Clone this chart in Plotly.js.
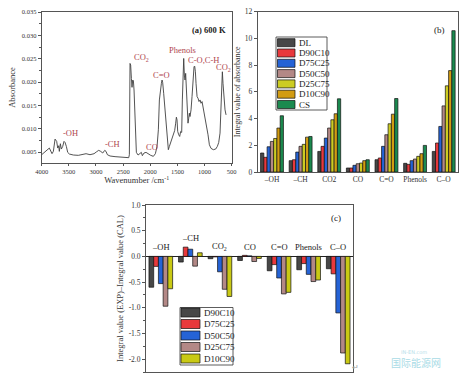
<!DOCTYPE html>
<html><head><meta charset="utf-8">
<script src="https://cdn.plot.ly/plotly-3.0.1.min.js"></script>
<style>body{margin:0;background:#fff}#c{width:474px;height:379px}</style>
</head><body><div id="c"></div>
<script>
// ---- Panel (a): FTIR spectrum at 600 K ----
const waveNumbers = [4000,3957,3908,3859,3810,3785,3754,3724,3705,3687,3675,3656,3638,3613,3589,3570,3546,3521,3490,3417,3325,3245,3183,3110,3036,2987,2950,2913,2876,2839,2815,2790,2741,2649,2557,2465,2397,2385,2373,2361,2348,2336,2324,2311,2299,2287,2275,2256,2225,2189,2164,2146,2115,2078,2035,1992,1943,1906,1875,1851,1832,1814,1795,1783,1771,1753,1734,1710,1685,1667,1648,1624,1600,1575,1550,1532,1519,1507,1495,1476,1458,1440,1421,1409,1397,1384,1372,1360,1348,1335,1317,1305,1292,1280,1268,1249,1231,1212,1194,1182,1169,1157,1138,1120,1102,1083,1065,1046,1028,1010,985,960,936,911,881,838,795,764,739,715,696,684,672,660,641,623,604];
const absorbance = [0.00443,0.00493,0.00550,0.00585,0.00465,0.00514,0.00777,0.00728,0.00585,0.00635,0.00514,0.00678,0.00564,0.00621,0.00728,0.00706,0.00621,0.00493,0.00457,0.00436,0.00429,0.00457,0.00464,0.00443,0.00464,0.00507,0.00536,0.00514,0.00479,0.00536,0.00514,0.00443,0.00415,0.00401,0.00393,0.00386,0.00379,0.00443,0.02398,0.02363,0.02078,0.01886,0.02043,0.02028,0.01829,0.01332,0.00728,0.00493,0.00436,0.00464,0.00493,0.00422,0.00479,0.00493,0.00457,0.00429,0.00408,0.00464,0.00621,0.00977,0.01616,0.01886,0.01972,0.02043,0.01986,0.01758,0.01474,0.01118,0.00763,0.00550,0.00621,0.00706,0.00777,0.00870,0.00962,0.01118,0.01246,0.01190,0.00941,0.00870,0.00834,0.00941,0.00920,0.01616,0.02469,0.02505,0.02149,0.02043,0.02185,0.01794,0.01332,0.01118,0.01225,0.01332,0.01261,0.01403,0.01687,0.02078,0.02327,0.02341,0.02220,0.01972,0.01687,0.01652,0.01581,0.01616,0.01545,0.01581,0.01474,0.01332,0.01225,0.01083,0.00870,0.00656,0.00578,0.00550,0.00564,0.00621,0.00706,0.00905,0.01616,0.02149,0.02220,0.01972,0.01616,0.01403,0.01296];
const peakLabels = ["-OH","-CH","CO<sub>2</sub>","CO","C=O","Phenols","C-O,C-H","CO<sub>2</sub>"];

// ---- Panel (b): integral values ----
const catsB = ["–OH","–CH","CO2","CO","C=O","Phenols","C–O"];
const seriesB = ["DL","D90C10","D75C25","D50C50","D25C75","D10C90","CS"];
const colorsB = ["#474747","#e8393c","#2563d6","#b38886","#cccc22","#d29c12","#1b8a4f"];
const DL     = [1.42,0.85,1.54,0.30,0.92,0.65,1.54];
const D90C10 = [1.10,0.92,1.92,0.30,1.05,0.57,2.17];
const D75C25 = [1.89,1.49,2.54,0.50,1.92,0.85,3.41];
const D50C50 = [2.29,1.92,3.29,0.62,2.79,0.97,4.95];
const D25C75 = [2.51,2.07,3.91,0.67,3.61,1.17,6.45];
const D10C90 = [3.29,2.61,4.36,0.85,4.33,1.37,7.59];
const CS     = [4.21,2.66,5.48,0.92,5.50,1.99,10.58];
const valuesB = [DL,D90C10,D75C25,D50C50,D25C75,D10C90,CS];

// ---- Panel (c): EXP - CAL ----
const catsC = ["–OH","–CH","CO<sub>2</sub>","CO","C=O","Phenols","C–O"];
const seriesC = ["D90C10","D75C25","D50C50","D25C75","D10C90"];
const colorsC = ["#474747","#e8393c","#2563d6","#b38886","#c9c914"];
const diff90 = [-0.60,-0.11,-0.045,-0.08,-0.28,-0.26,-0.24];
const diff75 = [-0.195,0.18,-0.01,0.02,-0.16,-0.14,-0.34];
const diff50 = [-0.53,0.14,-0.30,0.01,-0.42,-0.35,-1.10];
const diff25 = [-0.97,-0.19,-0.64,-0.10,-0.73,-0.49,-1.88];
const diff10 = [-0.63,0.07,-0.78,-0.04,-0.70,-0.46,-2.09];
const valuesC = [diff90,diff75,diff50,diff25,diff10];
const yTicksC = [1.0,0.5,0.0,-0.5,-1.0,-1.5,-2.0];
const yTickTextC = ["1.0","0.5","0.0","-0.5","-1.0","-1.5","-2.0"];

// ---- layout helpers (positions, not data) ----
const W=474,H=379;
const px=x=>x/W, py=y=>1-y/H;
const SERIF='"Liberation Serif","Times New Roman",serif';
const red='#b0474f';
const peakPos=[[61,132.7],[102.7,144],[131.7,57.3],[144,146.7],[161,75.3],[182.7,50],[203,60],[223.3,67.3]];
const labelYC=[0.05,0.22,0.05,0.05,0.05,0.05,0.05];

const traces=[];
traces.push({type:'scatter',mode:'lines',x:waveNumbers,y:absorbance,xaxis:'x',yaxis:'y',
  line:{color:'#404040',width:0.9},showlegend:false,hoverinfo:'skip'});
valuesB.forEach((v,i)=>traces.push({type:'bar',x:catsB,y:v,xaxis:'x2',yaxis:'y2',name:seriesB[i],
  marker:{color:colorsB[i],line:{color:'#111',width:0.7}},showlegend:false}));
valuesC.forEach((v,i)=>traces.push({type:'bar',x:catsB,y:v,xaxis:'x3',yaxis:'y3',name:seriesC[i],
  marker:{color:colorsC[i],line:{color:'#111',width:0.7}},showlegend:false}));

const axBase={showline:true,mirror:true,linecolor:'#555',linewidth:1,showgrid:false,zeroline:false,
  ticks:'outside',ticklen:3,tickcolor:'#555',tickfont:{family:SERIF,size:7,color:'#333'}};

const annotations=[];
peakLabels.forEach((t,i)=>annotations.push({xref:'paper',yref:'paper',x:px(peakPos[i][0]),y:py(peakPos[i][1]),text:t,showarrow:false,
  font:{family:SERIF,size:8.5,color:red},yanchor:'middle'}));
annotations.push({xref:'paper',yref:'paper',x:px(228),y:py(23),text:'<b>(a) 600 K</b>',showarrow:false,xanchor:'right',
  font:{family:SERIF,size:8.5,color:'#222'}});
annotations.push({xref:'paper',yref:'paper',x:px(447),y:py(23),text:'(b)',showarrow:false,
  font:{family:SERIF,size:9,color:'#222'}});
annotations.push({xref:'paper',yref:'paper',x:px(343),y:py(218),text:'(c)',showarrow:false,
  font:{family:SERIF,size:9,color:'#222'}});
catsC.forEach((t,i)=>annotations.push({xref:'x3',yref:'y3',x:i,y:labelYC[i],text:t,showarrow:false,yanchor:'bottom',
  font:{family:SERIF,size:8.5,color:'#222'}}));

const shapes=[];
// legend (b)
shapes.push({type:'rect',xref:'paper',yref:'paper',x0:px(276),x1:px(327),y0:py(110),y1:py(37),line:{color:'#333',width:0.8},fillcolor:'#fff'});
seriesB.forEach((n,i)=>{const yc=42.7+i*10.3;
  shapes.push({type:'rect',xref:'paper',yref:'paper',x0:px(277.5),x1:px(295),y0:py(yc+4),y1:py(yc-4),fillcolor:colorsB[i],line:{color:'#111',width:0.7}});
  annotations.push({xref:'paper',yref:'paper',x:px(297),y:py(yc),text:n,showarrow:false,xanchor:'left',yanchor:'middle',
    font:{family:SERIF,size:9,color:'#222'}});});
// legend (c)
shapes.push({type:'rect',xref:'paper',yref:'paper',x0:px(180),x1:px(233),y0:py(365),y1:py(307.5),line:{color:'#333',width:0.8},fillcolor:'#fff'});
seriesC.forEach((n,i)=>{const yc=312.5+i*11.5;
  shapes.push({type:'rect',xref:'paper',yref:'paper',x0:px(181),x1:px(200),y0:py(yc+4.5),y1:py(yc-4.5),fillcolor:colorsC[i],line:{color:'#111',width:0.7}});
  annotations.push({xref:'paper',yref:'paper',x:px(202),y:py(yc),text:n,showarrow:false,xanchor:'left',yanchor:'middle',
    font:{family:SERIF,size:9,color:'#222'}});});
// watermark
annotations.push({xref:'paper',yref:'paper',x:px(442),y:py(371),text:'国际能源网',showarrow:false,borderpad:0,
  font:{family:'"Noto Sans CJK SC"',size:10,color:'#a9dbe6'}});
annotations.push({xref:'paper',yref:'paper',x:px(428),y:py(356),text:'IN-EN.com',showarrow:false,borderpad:0,yanchor:'bottom',
  font:{family:'"DejaVu Sans"',size:5,color:'#b7e0ea'}});
annotations.push({xref:'paper',yref:'paper',x:px(361),y:py(374),text:'↵',showarrow:false,
  font:{family:SERIF,size:8,color:'#999'}});

const layout={width:W,height:H,margin:{l:0,r:0,t:0,b:0},paper_bgcolor:'#fff',plot_bgcolor:'#fff',
  showlegend:false,barmode:'group',bargap:0.2,bargroupgap:0,
  xaxis:Object.assign({},axBase,{domain:[px(41.7),px(231.7)],anchor:'y',range:[4000,500],dtick:500,tick0:500,ticklen:2,
    tickfont:{family:SERIF,size:6.5,color:'#333'},
    title:{text:'Wavenumber /cm<sup>-1</sup>',font:{family:SERIF,size:8.5,color:'#333'},standoff:0}}),
  yaxis:Object.assign({},axBase,{domain:[py(163),py(12)],anchor:'x',range:[0.00265,0.035],dtick:0.005,tick0:0,tickformat:'.3f',
    tickfont:{family:SERIF,size:6.5,color:'#333'},minor:{ticks:'outside',ticklen:2,dtick:0.0025,tickcolor:'#555'},
    title:{text:'Absorbance',font:{family:SERIF,size:8.5,color:'#333'},standoff:4}}),
  xaxis2:Object.assign({},axBase,{domain:[px(257.7),px(458)],anchor:'y2',range:[-0.5,6.5],ticks:'',
    tickfont:{family:SERIF,size:7.5,color:'#333'}}),
  yaxis2:Object.assign({},axBase,{domain:[py(172),py(11.7)],anchor:'x2',range:[0,12],dtick:2,
    tickfont:{family:SERIF,size:7.5,color:'#333'},
    title:{text:'Integral value of absorbance',font:{family:SERIF,size:8,color:'#333'},standoff:2}}),
  xaxis3:Object.assign({},axBase,{domain:[px(146),px(353)],anchor:'y3',range:[-0.5,6.5],ticks:'',showticklabels:false}),
  yaxis3:Object.assign({},axBase,{domain:[py(372),py(205)],anchor:'x3',range:[-2.25,1.0],tickvals:yTicksC,ticktext:yTickTextC,
    zeroline:true,zerolinecolor:'#222',zerolinewidth:1,
    tickfont:{family:SERIF,size:7.5,color:'#333'},minor:{ticks:'outside',ticklen:2,dtick:0.25,tickcolor:'#555'},
    title:{text:'Integral value (EXP)–Integral value (CAL)',font:{family:SERIF,size:8.5,color:'#333'},standoff:3}}),
  annotations:annotations,shapes:shapes};
Plotly.newPlot('c',traces,layout,{staticPlot:true});
</script></body></html>
